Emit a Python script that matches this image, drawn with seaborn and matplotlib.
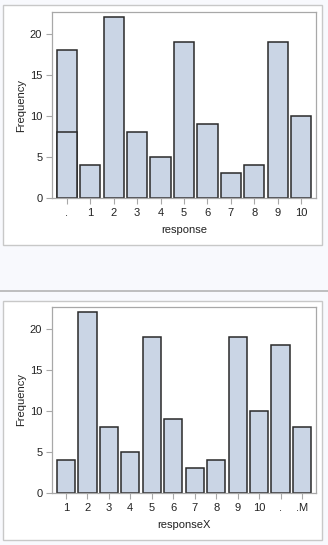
import matplotlib
matplotlib.use("Agg")
import matplotlib.pyplot as plt
import pandas as pd
import seaborn as sns
from matplotlib.patches import Rectangle
from matplotlib.lines import Line2D

# Frequencies of "response" (missing values formatted as ".")
response_labels = [".", "1", "2", "3", "4", "5", "6", "7", "8", "9", "10"]
response_counts = [18, 4, 22, 8, 5, 19, 9, 3, 4, 19, 10]
# special missing .M, which also prints as "." under the response format
response_m_label = "."
response_m_count = 8

# Frequencies of "responseX" (missing kinds kept apart)
responsex_labels = ["1", "2", "3", "4", "5", "6", "7", "8", "9", "10", ".", ".M"]
responsex_counts = [4, 22, 8, 5, 19, 9, 3, 4, 19, 10, 18, 8]

y_ticks = [0, 5, 10, 15, 20]

FILL = "#cad5e5"
EDGE = "#2a2a2a"
FRAME = "#a8a8a8"
PAGE = "#f8f9fd"
PANEL_EDGE = "#c8c8c8"
FS = 8

sns.set_style("white")
plt.rcParams["font.family"] = ["Liberation Sans", "DejaVu Sans"]

W, H = 328, 545
fig = plt.figure(figsize=(W / 100, H / 100), dpi=100, facecolor=PAGE)


def px_rect(left, top, right, bottom):
    return [left / W, 1 - bottom / H, (right - left) / W, (bottom - top) / H]


# white output panels with light borders, and the rule between them
for (l, t, r, b) in [(3, 5, 322, 245), (3, 301, 322, 540)]:
    x0, y0, w, h = px_rect(l, t, r, b)
    fig.patches.append(Rectangle((x0, y0), w, h, transform=fig.transFigure,
                                 facecolor="white", edgecolor=PANEL_EDGE,
                                 linewidth=1.0, zorder=-2))
fig.lines.append(Line2D([0, 1], [1 - 291 / H, 1 - 291 / H],
                        transform=fig.transFigure, color="#b4b4b4",
                        linewidth=1.2, zorder=-2))


def style_axes(ax, xlabel):
    ax.set_facecolor("white")
    ax.set_ylim(0, 22.64)
    ax.set_yticks(y_ticks)
    ax.set_xlabel(xlabel, fontsize=FS, labelpad=4.5, color="#222222")
    ax.set_ylabel("Frequency", fontsize=FS, labelpad=3, color="#222222")
    ax.tick_params(axis="both", which="both", direction="out", length=4,
                   width=0.8, color=FRAME, labelsize=FS, labelcolor="#222222",
                   bottom=True, left=True)
    ax.tick_params(axis="x", pad=3.5)
    ax.tick_params(axis="y", pad=3)
    for s in ax.spines.values():
        s.set_visible(True)
        s.set_color(FRAME)
        s.set_linewidth(0.9)


# top chart: response
ax1 = fig.add_axes(px_rect(52, 12, 316, 198))
df1 = pd.DataFrame({"response": response_labels, "Frequency": response_counts})
sns.barplot(data=df1, x="response", y="Frequency", order=response_labels,
            color=FILL, saturation=1, width=0.86, edgecolor=EDGE,
            linewidth=1.1, ax=ax1)
df1m = pd.DataFrame({"response": [response_m_label], "Frequency": [response_m_count]})
sns.barplot(data=df1m, x="response", y="Frequency", order=response_labels,
            color=FILL, saturation=1, width=0.86, edgecolor=EDGE,
            linewidth=1.1, ax=ax1)
ax1.set_xlim(-0.63, len(response_labels) - 1 + 0.63)
style_axes(ax1, "response")

# bottom chart: responseX
ax2 = fig.add_axes(px_rect(52, 307, 316, 493))
df2 = pd.DataFrame({"responseX": responsex_labels, "Frequency": responsex_counts})
sns.barplot(data=df2, x="responseX", y="Frequency", order=responsex_labels,
            color=FILL, saturation=1, width=0.86, edgecolor=EDGE,
            linewidth=1.1, ax=ax2)
ax2.set_xlim(-0.64, len(responsex_labels) - 1 + 0.64)
style_axes(ax2, "responseX")

fig.savefig("out.png", dpi=100, facecolor=PAGE)
